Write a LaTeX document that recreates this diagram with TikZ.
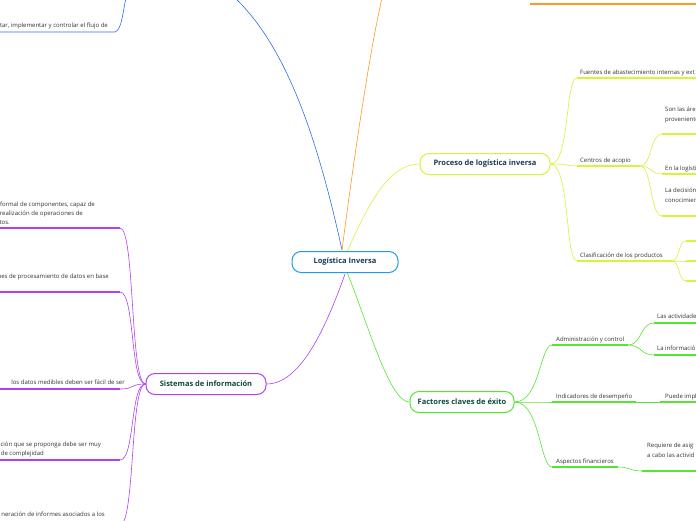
\documentclass[tikz,border=0pt]{standalone}
\usepackage{fontspec}
\setmainfont{Open Sans}
\definecolor{cblue}{HTML}{2F6FE8}
\definecolor{corange}{HTML}{FF9922}
\definecolor{cyel}{HTML}{D4F53A}
\definecolor{cgreen}{HTML}{55E632}
\definecolor{cpurple}{HTML}{B040F0}
\definecolor{cnavy}{HTML}{1A3A5A}
\definecolor{cdark}{HTML}{0E4A3A}
\begin{document}
\begin{tikzpicture}[x=1pt,y=-1pt,
  main/.style={draw,rounded corners=9pt,line width=1pt,minimum height=21pt,font=\fontsize{7.5}{9}\selectfont\bfseries,fill=white},
  txt/.style={font=\fontsize{6}{9.5}\selectfont,text=black!80,inner sep=0pt,align=left},
  br/.style={line width=0.6pt},
  ul/.style={line width=1.3pt}]
\useasboundingbox (0,0) rectangle (696,520);
\clip (0,0) rectangle (696,520);
\fill[white] (0,0) rectangle (696,520);
% main branches
\coordinate (cT) at (342,250);
\coordinate (topB) at (235,-2);
\coordinate (topO) at (382,-2);
\draw[cblue,br] (cT) .. controls (320,150) and (290,50) .. (topB);
\draw[corange,br] (cT) .. controls (355,150) and (370,50) .. (topO);
\draw[cblue,br] (-2,32) -- (115,32) .. controls (122,30) and (123,10) .. (126,-2);
\node[txt,anchor=base east] (tb) at (108,27) {ctar, implementar y controlar el flujo de};
\draw[corange,ul] (530,4) -- (696,4);

% yellow branch
\node[main,draw=cyel,text=cnavy,minimum width=130pt] (pl) at (485,164) {Proceso de logística inversa};
\coordinate (c1) at (347,252);
\draw[cyel,br] (c1) .. controls (370,200) and (390,164) .. (pl.west);
\foreach \y/\x in {78/696,166/640,261/672}{
  \draw[cyel,br] (pl.east) .. controls (570,164) and (565,\y) .. (577,\y);
  \draw[cyel,ul] (577,\y) -- (\x,\y);}
\node[txt,anchor=base west] (f1) at (580,74) {Fuentes de abastecimiento internas y ext};
\node[txt,anchor=base west] (f2) at (580,162) {Centros de acopio};
\node[txt,anchor=base west] (f3) at (580,257) {Clasificación de los productos};
\foreach \y in {134,174,216}{
  \draw[cyel,br] (640,166) .. controls (652,166) and (650,\y) .. (662,\y);
  \draw[cyel,ul] (662,\y) -- (696,\y);}
\node[txt,anchor=base west] (a1) at (665,121) {Son las áre\\proveniente};
\node[txt,anchor=base west] (a2) at (665,170) {En la logísti};
\node[txt,anchor=base west] (a3) at (665,202) {La decisión\\conocimien};
\foreach \y in {241,261,281}{
  \draw[cyel,br] (672,261) .. controls (680,261) and (678,\y) .. (686,\y);
  \draw[cyel,ul] (686,\y) -- (696,\y);}

% green branch
\node[main,draw=cgreen,text=cdark,minimum width=104pt] (fc) at (462,402) {Factores claves de éxito};
\coordinate (c2) at (347,272);
\draw[cgreen,br] (c2) .. controls (370,330) and (390,402) .. (fc.west);
\foreach \y/\x in {345/628,402/636,467/618}{
  \draw[cgreen,br] (fc.east) .. controls (540,402) and (540,\y) .. (552,\y);
  \draw[cgreen,ul] (552,\y) -- (\x,\y);}
\node[txt,anchor=base west] (g1) at (556,341) {Administración y control};
\node[txt,anchor=base west] (g2) at (556,398) {Indicadores de desempeño};
\node[txt,anchor=base west] (g3) at (556,463) {Aspectos financieros};
\foreach \y in {323,355}{
  \draw[cgreen,br] (628,345) .. controls (642,345) and (640,\y) .. (654,\y);
  \draw[cgreen,ul] (654,\y) -- (696,\y);}
\node[txt,anchor=base west] (h1) at (657,318) {Las actividade};
\node[txt,anchor=base west] (h2) at (657,350) {La informació};
\draw[cgreen,br] (636,402) -- (660,402);
\draw[cgreen,ul] (660,402) -- (696,402);
\node[txt,anchor=base west] (h3) at (665,398) {Puede impl};
\draw[cgreen,br] (618,467) .. controls (630,467) and (630,471) .. (642,471);
\draw[cgreen,ul] (642,471) -- (696,471);
\node[txt,anchor=base west] (h4) at (647,457) {Requiere de asig\\a cabo las activid};

% purple branch
\node[main,draw=cpurple,text=cdark,minimum width=120pt] (si) at (206,384) {Sistemas de información};
\coordinate (c3) at (345,274);
\draw[cpurple,br] (c3) .. controls (325,330) and (300,384) .. (si.east);
\foreach \y in {228,292,389,460,525}{
  \draw[cpurple,br] (si.west) .. controls (130,384) and (135,\y) .. (120,\y);}
\foreach \y in {228,292,389,460}{
  \draw[cpurple,ul] (-2,\y) -- (120,\y);}
\node[txt,anchor=base east] (s1) at (95,206) {formal de componentes, capaz de};
\node[txt,anchor=base east] (s1b) at (83,215) {realización de operaciones de};
\node[txt,anchor=base east] (s1c) at (10,224) {tos.};
\node[txt,anchor=base east] (s2) at (109,278) {nes de procesamiento de datos en base};
\node[txt,anchor=base east] (s3) at (125,384) {los datos medibles deben ser fácil de ser};
\node[txt,anchor=base east] (s4) at (101,446) {ación que se proponga debe ser muy};
\node[txt,anchor=base east] (s4b) at (44,455) {de complejidad};
\node[txt,anchor=base east] (s5) at (105,516) {neración de informes asociados a los};

\node[main,draw=cblue!70!cyan,text=cnavy,minimum width=106pt] (li) at (345,262) {Logística Inversa};
\end{tikzpicture}
\end{document}
